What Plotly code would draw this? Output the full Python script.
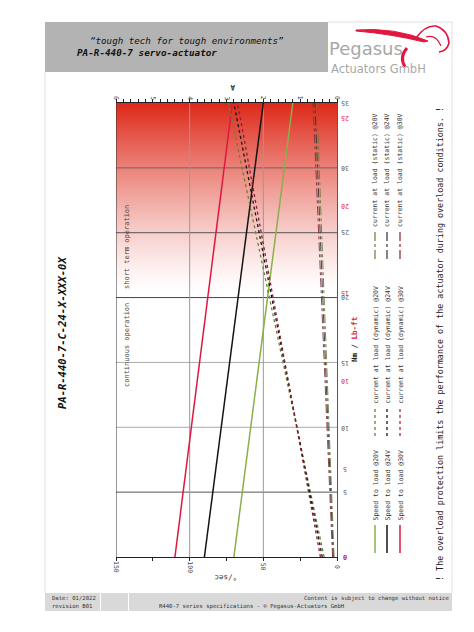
import plotly.graph_objects as go

# reference page coordinates (474x632); the figure itself sits 8px in from the page corner
OFF = 8
W, H = 474 - OFF, 632 - OFF


def px(x):
    return (x - OFF) / W


def py(y):
    return 1 - (y - OFF) / H


# ---------------- data ----------------
torque_nm = [0, 35]
speed_20v = [70, 30]
speed_24v = [90, 50]
speed_30v = [110, 71]
current_dyn_20v = [0.35, 2.95]
current_dyn_24v = [0.40, 2.80]
current_dyn_30v = [0.45, 2.70]
current_stat_20v = [0.08, 0.55]
current_stat_24v = [0.10, 0.60]
current_stat_30v = [0.12, 0.65]

speed_tick_labels = [0, 50, 100, 150]
current_tick_labels = [0, 1, 2, 3, 4, 5, 6]
nm_tick_labels = [0, 5, 10, 15, 20, 25, 30, 35]
lbft_tick_labels = [0, 5, 10, 15, 20, 25]
NM_PER_LBFT = 1 / 0.7376

GREEN = "#88b04b"
BLACK = "#141414"
RED = "#e0173f"
MONO = "DejaVu Sans Mono"

fig = go.Figure()

# speed lines
for s, c, name in [(speed_20v, GREEN, "Speed to load @20V"),
                   (speed_24v, BLACK, "Speed to load @24V"),
                   (speed_30v, RED, "Speed to load @30V")]:
    fig.add_trace(go.Scatter(x=s, y=torque_nm, mode="lines", name=name,
                             line=dict(color=c, width=1.5), xaxis="x", yaxis="y",
                             showlegend=False))
# dynamic current
for s, c in [(current_dyn_20v, "#6f7f35"), (current_dyn_24v, BLACK), (current_dyn_30v, "#8a2030")]:
    fig.add_trace(go.Scatter(x=s, y=torque_nm, mode="lines",
                             line=dict(color=c, width=1.3, dash="dot"), xaxis="x2", yaxis="y",
                             showlegend=False))
# static current
for s, c in [(current_stat_20v, "#6a7a3a"), (current_stat_24v, "#333333"), (current_stat_30v, "#7a3040")]:
    fig.add_trace(go.Scatter(x=s, y=torque_nm, mode="lines",
                             line=dict(color=c, width=0.9, dash="dashdot"), xaxis="x2", yaxis="y",
                             showlegend=False))

shapes = []
# gradient (short term zone)
N = 80
y_start, y_end = 20.3, 35.0
top = (221, 40, 24)
step = (y_end - y_start) / N
for i in range(N):
    y0 = y_start + step * i
    y1 = min(y_end, y0 + step * 1.8)
    t = (y0 + step / 2 - y_start) / (y_end - y_start)
    f = t ** 1.3
    col = tuple(int(round(255 - f * (255 - c))) for c in top)
    shapes.append(dict(type="rect", xref="x", yref="y", x0=0, x1=150, y0=y0, y1=y1,
                       fillcolor="rgb(%d,%d,%d)" % col, line=dict(width=0), layer="below"))
# gridlines
for v, c in [(5, "#555555"), (10, "#aaaaaa"), (15, "#aaaaaa"), (20, "#444444"),
             (25, "#555555"), (30, "#666666")]:
    shapes.append(dict(type="line", xref="x", yref="y", x0=0, x1=150, y0=v, y1=v,
                       line=dict(color=c, width=1), layer="between"))
for v in [50, 100]:
    shapes.append(dict(type="line", xref="x", yref="y", x0=v, x1=v, y0=0, y1=35,
                       line=dict(color="#999999", width=1), layer="between"))

# page frame
shapes.append(dict(type="line", xref="paper", yref="paper", x0=px(45), x1=px(45), y0=py(72), y1=py(593),
                   line=dict(color="#e2e2e2", width=1)))
shapes.append(dict(type="line", xref="paper", yref="paper", x0=px(452), x1=px(452), y0=py(22), y1=py(593),
                   line=dict(color="#e2e2e2", width=1)))
# header
shapes.append(dict(type="rect", xref="paper", yref="paper", x0=px(45), x1=px(328), y0=py(72), y1=py(22),
                   fillcolor="#b3b3b3", line=dict(width=0)))
shapes.append(dict(type="line", xref="paper", yref="paper", x0=px(328), x1=px(452), y0=py(22), y1=py(22),
                   line=dict(color="#e2e2e2", width=1)))
# footer
for x0, x1 in [(45, 100), (101, 128), (129, 452)]:
    shapes.append(dict(type="rect", xref="paper", yref="paper", x0=px(x0), x1=px(x1), y0=py(611), y1=py(593),
                       fillcolor="#d9d9d9", line=dict(width=0)))


def path(cmds):
    out = []
    for tok in cmds:
        if isinstance(tok, str):
            out.append(tok)
        else:
            out.append("%.5f,%.5f" % (px(tok[0]), py(tok[1])))
    return " ".join(out)


# logo swoosh / horse
shapes.append(dict(type="path", xref="paper", yref="paper",
                   path=path(["M", (356, 30), "Q", (395, 27), (428, 41), "L", (424, 42), "Q", (392, 34), (356, 31), "Z"]),
                   fillcolor=RED, line=dict(color=RED, width=1)))
shapes.append(dict(type="path", xref="paper", yref="paper",
                   path=path(["M", (416, 38), "Q", (425, 25), (436, 26), "Q", (448, 30), (449, 43), "Q", (447, 51), (439, 52)]),
                   line=dict(color=RED, width=1.6)))
shapes.append(dict(type="path", xref="paper", yref="paper",
                   path=path(["M", (426, 37), "Q", (436, 34), (441, 46)]),
                   line=dict(color=RED, width=1.2)))
shapes.append(dict(type="path", xref="paper", yref="paper",
                   path=path(["M", (407, 48), "Q", (399, 57), (405, 67)]),
                   line=dict(color=RED, width=3)))

ann = []


def A(**kw):
    kw.setdefault("xanchor", "center")
    kw.setdefault("yanchor", "middle")
    kw.setdefault("showarrow", False)
    kw.setdefault("xref", "paper")
    kw.setdefault("yref", "paper")
    ann.append(kw)


# legend
leg_cols = [(375, GREEN, "#6f7f35", "#6a7a3a", "@20V"),
            (387, BLACK, BLACK, "#333333", "@24V"),
            (400, RED, "#c0203a", "#902030", "@30V")]
LEGF = dict(family=MONO, size=6.5, color="#333")
for x, c_s, c_d, c_st, v in leg_cols:
    shapes.append(dict(type="line", xref="paper", yref="paper", x0=px(x), x1=px(x), y0=py(553), y1=py(525),
                       line=dict(color=c_s, width=1.5)))
    A(x=px(x), y=py(523), text="Speed to load " + v, textangle=-90, yanchor="bottom", font=LEGF)
    shapes.append(dict(type="line", xref="paper", yref="paper", x0=px(x), x1=px(x), y0=py(436), y1=py(408),
                       line=dict(color=c_d, width=1.3, dash="dot")))
    A(x=px(x), y=py(406), text="current at load (dynamic) " + v, textangle=-90, yanchor="bottom", font=LEGF)
    shapes.append(dict(type="line", xref="paper", yref="paper", x0=px(x), x1=px(x), y0=py(259), y1=py(231),
                       line=dict(color=c_st, width=1.2, dash="dashdot")))
    A(x=px(x), y=py(229), text="current at load (static) " + v, textangle=-90, yanchor="bottom", font=LEGF)

# tick labels
TICKF = dict(family=MONO, size=6.5, color="#444")
for v in speed_tick_labels:
    A(x=v, xref="x", y=py(567), text=str(v), textangle=90, font=TICKF)
for v in current_tick_labels:
    A(x=v, xref="x2", y=py(98), text=str(v), textangle=90, font=TICKF)
for v in nm_tick_labels:
    A(x=px(345), y=v, yref="y", text=str(v), textangle=180, font=dict(family=MONO, size=6.5, color="#555"))
for v in lbft_tick_labels:
    A(x=px(345), y=v * NM_PER_LBFT, yref="y", text=str(v), textangle=180,
      font=dict(family=MONO, size=6.5, color=RED))

# axis titles
A(x=px(226), y=py(578), text="°/sec", textangle=180, font=dict(family=MONO, size=7.5, color="#333"))
A(x=px(233), y=py(88), text="<b>A</b>", textangle=180, font=dict(family=MONO, size=7.5, color="#333"))
A(x=px(354), y=py(340), text="<b>Nm / <span style='color:%s'>Lb-ft</span></b>" % RED,
  textangle=-90, font=dict(family=MONO, size=7.5, color="#222"))

# zone labels
A(x=px(127), y=py(345), text="continuous operation", textangle=-90, font=dict(family=MONO, size=7, color="#444"))
A(x=px(127), y=py(247), text="short term operation", textangle=-90, font=dict(family=MONO, size=7, color="#444"))

# page texts
A(x=px(62), y=py(333), text="<b><i>PA-R-440-7-C-24-X-XXX-0X</i></b>", textangle=-90,
  font=dict(family=MONO, size=10.5, color="#111"))
A(x=px(440), y=py(344),
  text="! The overload protection limits the performance of the actuator during overload conditions. !",
  textangle=-90, font=dict(family=MONO, size=8.4, color="#222"))
A(x=px(187), y=py(40), text="<i>“tough tech for tough environments”</i>", font=dict(family=MONO, size=9.2, color="#111"))
A(x=px(75), y=py(53), text="<b><i>PA-R-440-7 servo-actuator</i></b>", xanchor="left",
  font=dict(family=MONO, size=9.3, color="#111"))
A(x=px(327), y=py(49), text="Pegasus", xanchor="left", font=dict(family="DejaVu Sans", size=18, color="#a8a8a8"))
A(x=px(329), y=py(69), text="Actuators GmbH", xanchor="left", font=dict(family="DejaVu Sans", size=11.5, color="#a8a8a8"))
# footer texts
FOOT = dict(family=MONO, size=5.6, color="#333")
A(x=px(50), y=py(598), text="Date: 01/2022", xanchor="left", font=FOOT)
A(x=px(50), y=py(606), text="revision B01", xanchor="left", font=FOOT)
A(x=px(451), y=py(598), text="Content is subject to change without notice", xanchor="right", font=FOOT)
A(x=px(157), y=py(606), text="R440-7 series specifications - © Pegasus-Actuators GmbH", xanchor="left", font=FOOT)

fig.update_layout(
    width=W, height=H, margin=dict(l=0, r=0, t=0, b=0),
    paper_bgcolor="white", plot_bgcolor="white",
    showlegend=False,
    xaxis=dict(domain=[px(116), px(337)], range=[150, 0], showgrid=False, zeroline=False,
               showline=True, linecolor="#222", linewidth=1,
               ticks="outside", ticklen=3, tickcolor="#222",
               tickvals=[0, 25, 50, 75, 100, 125, 150], showticklabels=False, anchor="y"),
    xaxis2=dict(domain=[px(116), px(337)], range=[6, 0], overlaying="x", side="top", anchor="y",
                showgrid=False, zeroline=False, showline=True, linecolor="#222", linewidth=1,
                ticks="outside", ticklen=3, tickcolor="#222",
                tickvals=[i * 0.2 for i in range(31)], showticklabels=False),
    yaxis=dict(domain=[py(557), py(103)], range=[0, 35], side="right", showgrid=False, zeroline=False,
               showline=True, linecolor=RED, linewidth=1, ticks="", showticklabels=False, anchor="x"),
    shapes=shapes,
    annotations=ann,
)
fig.add_shape(type="line", xref="x", yref="y", x0=150, x1=150, y0=0, y1=35, line=dict(color="#333", width=1))

fig.write_html("out.html")
